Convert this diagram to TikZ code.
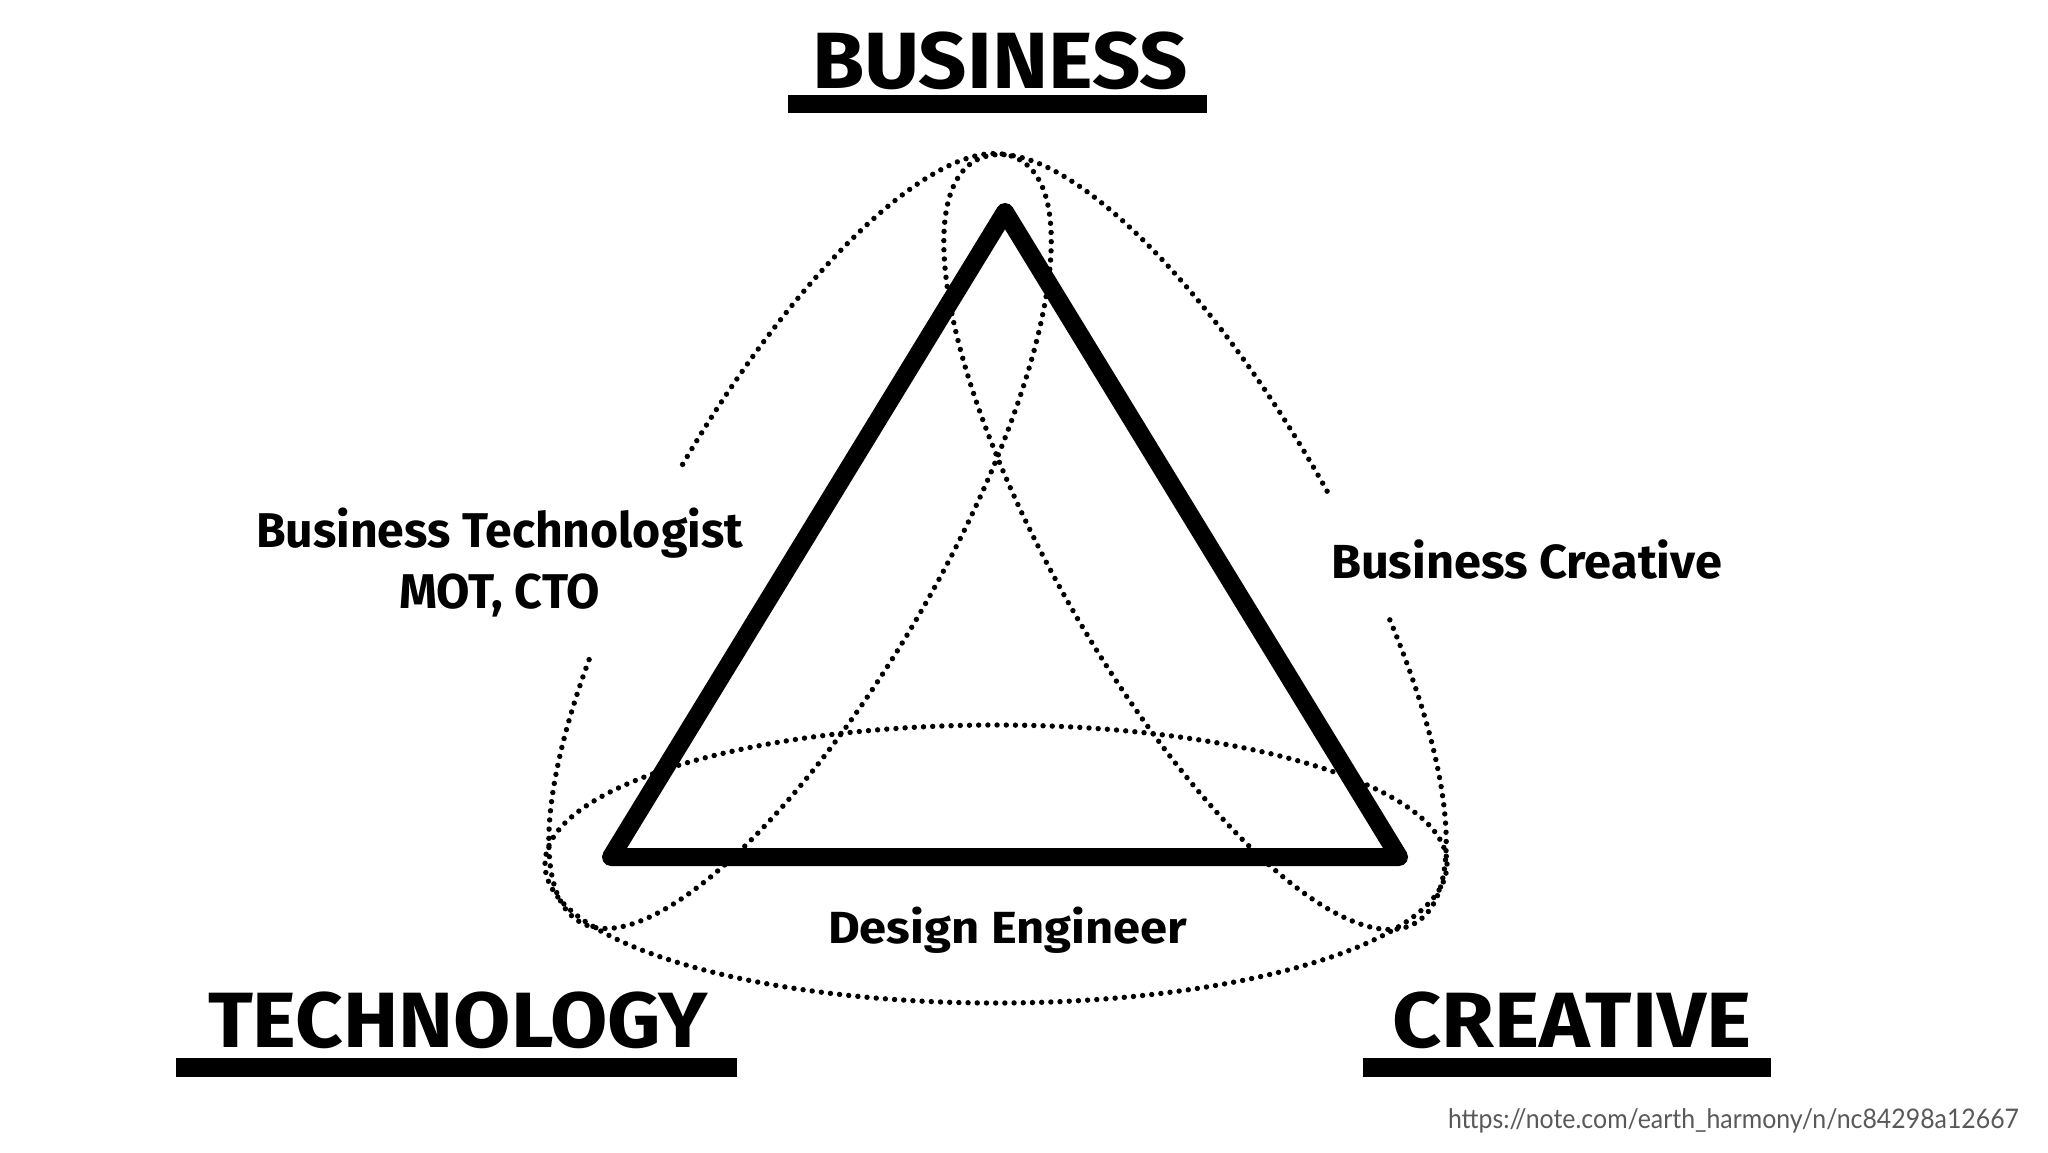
\documentclass[tikz,border=0pt]{standalone}
\usepackage{fontspec}
\usepackage{graphicx}
\setmainfont{Fira Sans}
\newfontfamily\urlfont{Lato}
\newcommand\myfit[3]{{\fontsize{#1}{#1}\selectfont\bfseries\resizebox{#2}{\height}{#3}}}
\tikzset{
  dots/.style={line width=2.7pt, dash pattern=on 0pt off 4.6pt, line cap=round},
  tri/.style={line width=9pt, line join=round},
  bar/.style={fill=black},
  lbl/.style={inner sep=0pt, outer sep=0pt, anchor=base west},
}
\begin{document}
\begin{tikzpicture}[x=0.5pt, y=-0.5pt]
\useasboundingbox[fill=white] (0,0) rectangle (2048,1152);

% dotted ellipses
\coordinate (cl) at (800,541);
\coordinate (cr) at (1195,542);
\coordinate (cb) at (996,864);
\begin{scope}[shift={(cl)}, rotate=60]
  \draw[dots] (271:440 and 140) arc[start angle=271, end angle=603, x radius=440, y radius=140];
\end{scope}
\begin{scope}[shift={(cr)}, rotate=120]
  \draw[dots] (112:440 and 140) arc[start angle=112, end angle=454, x radius=440, y radius=140];
\end{scope}
\draw[dots] (cb) ellipse [x radius=451, y radius=139];

% triangle
\coordinate (apex) at (1005,212);
\coordinate (bl) at (611,857);
\coordinate (br) at (1399,857);
\draw[tri] (apex) -- (bl) -- (br) -- cycle;

% headings
\node[lbl] (business) at (812,88) {\myfit{39.9pt}{188pt}{BUSINESS}};
\fill[bar] (788,95) rectangle (1207,113);
\node[lbl] (technology) at (208,1047) {\myfit{39.2pt}{250pt}{TECHNOLOGY}};
\fill[bar] (176,1058) rectangle (737,1077);
\node[lbl] (creative) at (1392,1047) {\myfit{39.2pt}{179.5pt}{CREATIVE}};
\fill[bar] (1363,1058) rectangle (1771,1077);

% labels
\node[lbl] (bt) at (256,547) {\myfit{24.4pt}{243.5pt}{Business Technologist}};
\node[lbl] (mot) at (399,608) {\myfit{24.4pt}{100.5pt}{MOT, CTO}};
\node[lbl] (bc) at (1331,578) {\myfit{23.9pt}{195.5pt}{Business Creative}};
\node[lbl] (de) at (828,943) {\myfit{22.5pt}{179.5pt}{Design Engineer}};

% source url
\node[lbl, text=black!65] (url) at (1448,1128) {\urlfont\fontsize{13.5pt}{14pt}\selectfont\resizebox{285.5pt}{\height}{https://note.com/earth\_harmony/n/nc84298a12667}};
\end{tikzpicture}
\end{document}
